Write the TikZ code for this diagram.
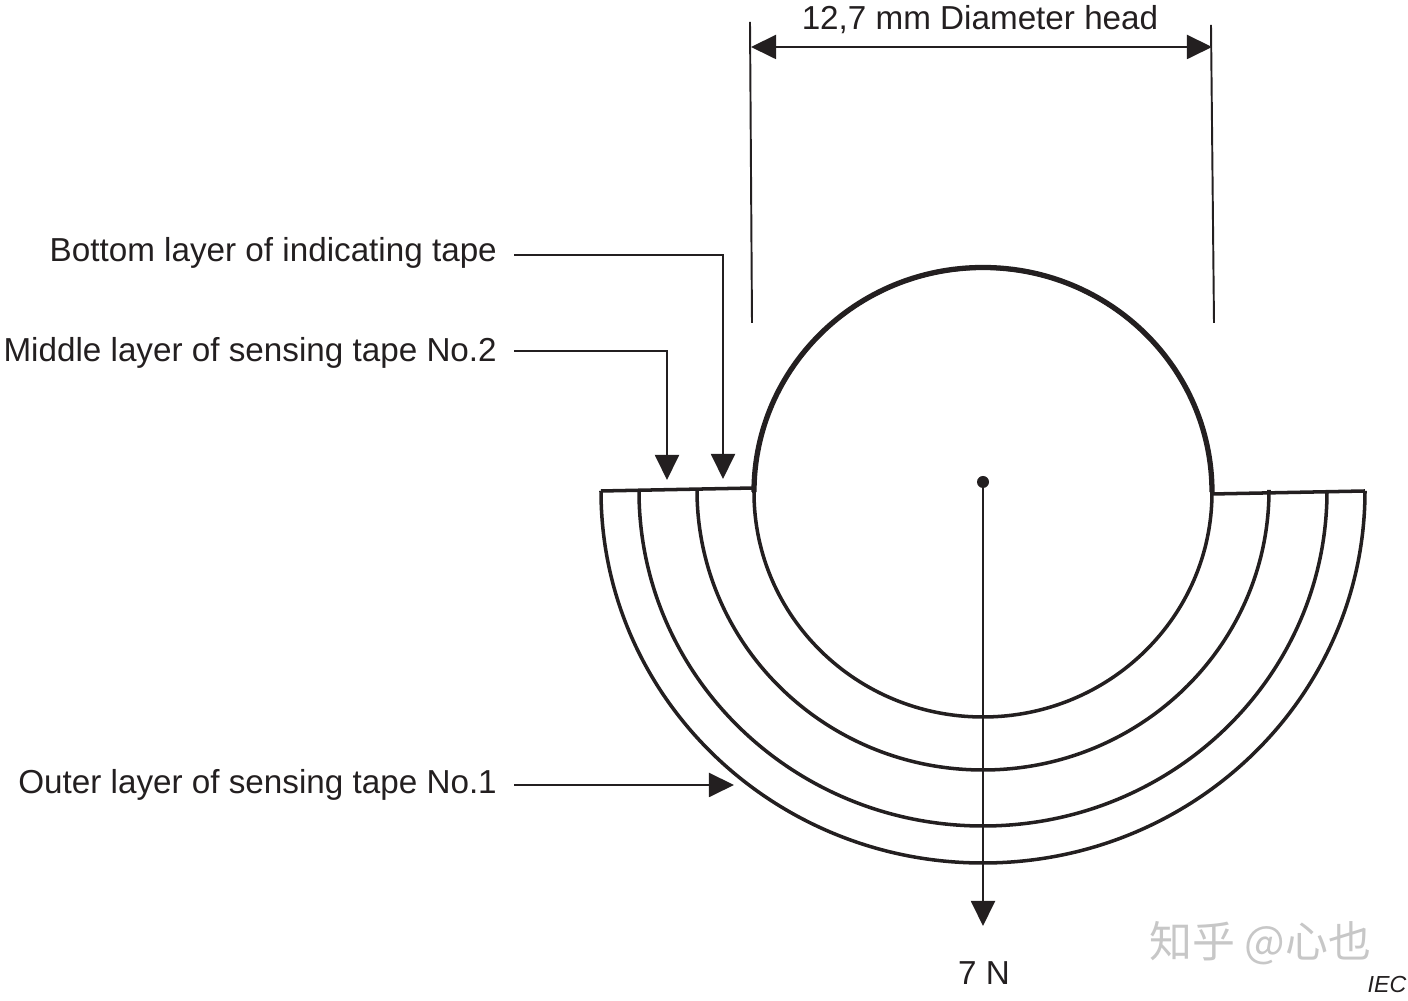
\documentclass[tikz,border=0pt]{standalone}
\usepackage{fontspec}
\setmainfont{Liberation Sans}
\newfontfamily\cjkfont{Noto Sans CJK SC}
\usepackage{tikz}
\usetikzlibrary{arrows.meta}
\definecolor{ink}{HTML}{231F20}
\tikzstyle{leader} = [draw=ink, line width=0.55pt, -{Triangle[length=0.25cm,width=0.24cm]}]
\tikzstyle{edge} = [draw=ink, line width=1pt, line join=round]
\tikzstyle{tag} = [font=\fontsize{9.45pt}{11pt}\selectfont, text=ink, inner sep=0pt]
\tikzstyle{side} = [tag, anchor=east, inner xsep=0.165cm]

\begin{document}
\begin{tikzpicture}[x=0.01cm,y=-0.01cm]
		\useasboundingbox (0,0) rectangle (1408,1001);
		%left ends of the layers
		\coordinate (a0) at (983,482);
		\coordinate (a1) at (697,490);
		\coordinate (a2) at (639,491);
		\coordinate (a3) at (601,491);
		\coordinate (h1) at (754,492);
		\coordinate (h2) at (1212,494);
		\coordinate (e1) at (1365,491);
		%head
		\draw[edge] (983,492.5) ellipse (229 and 224.5);
		\draw[edge, line width=1.5pt] (h1) arc (180:360:229 and 224.5);
		%tape layers
		\draw[edge] (a1) arc (180:360:286 and -280);
		\draw[edge] (a2) arc (180:360:344 and -335);
		\draw[edge] (a3) arc (180:360:382 and -372);
		\draw[edge] (a3) -- (754,488);
		\draw[edge] (h2) -- (e1);
		\fill[ink] (a0) circle (6);
		%dimension
		\coordinate (d1) at (750,22);
		\coordinate (d2) at (752,323);
		\coordinate (d3) at (1211,25);
		\coordinate (d4) at (1214,323);
		\coordinate (d5) at (751,47);
		\coordinate (d6) at (1212,47);
		\draw[ink, line width=0.55pt] (d1) -- (d2);
		\draw[ink, line width=0.55pt] (d3) -- (d4);
		\draw[leader, {Triangle[length=0.25cm,width=0.24cm]}-{Triangle[length=0.25cm,width=0.24cm]}] (d5) to (d6);
		\node[tag] (ndia) at (980,20) {12,7 mm Diameter head};
		%labels
		\node[side] (n1) at (514,253) {Bottom layer of indicating tape};
		\node[side] (n2) at (514,353) {Middle layer of sensing tape No.2};
		\node[side] (n3) at (514,785) {Outer layer of sensing tape No.1};
		\coordinate (t1) at (723,479);
		\coordinate (t2) at (667,480);
		\coordinate (t3) at (734,785);
		\draw[leader] (n1.east) ++(0,2) -| (t1);
		\draw[leader] (n2.east) ++(0,-2) -| (t2);
		\draw[leader] (n3.east) -- (t3);
		%load
		\node[tag] (nload) at (984,973) {7 N};
		\coordinate (t4) at (983,926);
		\draw[leader] (a0) to (t4);
		\node[tag, font=\fontsize{6.6pt}{8pt}\selectfont\itshape] (niec) at (1387,985) {IEC};
		\node[inner sep=0pt, text=black!22, font=\fontsize{12.2pt}{13pt}\cjkfont] (nmark) at (1260,943) {知乎 @心也};
\end{tikzpicture}
\end{document}
